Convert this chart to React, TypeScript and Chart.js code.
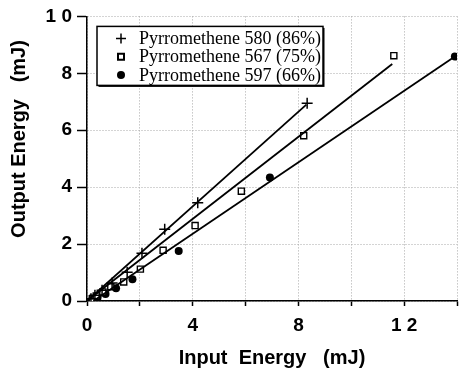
import React, { useEffect, useRef } from 'react';
import { Chart, registerables } from 'chart.js';

Chart.register(...registerables);

// ---- data ----
const xTickValues = [0, 2, 4, 6, 8, 10, 12, 14];
const xTickLabels = ['0', '', '4', '', '8', '', '1 2', ''];
const yTickValues = [0, 2, 4, 6, 8, 10];
const yTickLabels = ['0', '2', '4', '6', '8', '1 0'];

const seriesLabels = ['Pyrromethene 580 (86%)', 'Pyrromethene 567 (75%)', 'Pyrromethene 597 (66%)'];

const input580 = [0.15, 0.3, 0.57, 0.95, 1.52, 2.08, 2.94, 4.19, 8.33];
const output580 = [0.08, 0.2, 0.38, 0.63, 1.01, 1.68, 2.52, 3.45, 6.95];
const input567 = [0.2, 0.35, 0.6, 0.9, 1.39, 2.02, 2.88, 4.09, 5.84, 8.2, 11.61];
const output567 = [0.08, 0.18, 0.32, 0.5, 0.67, 1.12, 1.78, 2.65, 3.86, 5.81, 8.62];
const input597 = [0.2, 0.4, 0.7, 1.1, 1.72, 3.47, 6.92, 13.92];
const output597 = [0.05, 0.12, 0.25, 0.45, 0.76, 1.76, 4.34, 8.59];

const fitX580 = [0, 8.3];
const fitY580 = [0, 6.9];
const fitX567 = [0, 11.55];
const fitY567 = [0, 8.33];
const fitX597 = [0.24, 13.92];
const fitY597 = [0, 8.59];

const xTitle = 'Input  Energy   (mJ)';
const yTitle = 'Output Energy   (mJ)';

const zip = (xs: number[], ys: number[]) => xs.map((x, i) => ({ x, y: ys[i] }));

const SANS = '"Liberation Sans", Arial, sans-serif';
const SERIF = '"Liberation Serif", "Times New Roman", serif';

const drawMarker = (ctx: CanvasRenderingContext2D, kind: string, x: number, y: number) => {
  ctx.save();
  ctx.strokeStyle = '#000';
  ctx.fillStyle = '#000';
  if (kind === 'cross') {
    ctx.lineWidth = 1.5;
    ctx.beginPath();
    ctx.moveTo(x - 5, y);
    ctx.lineTo(x + 5, y);
    ctx.moveTo(x, y - 5);
    ctx.lineTo(x, y + 5);
    ctx.stroke();
  } else if (kind === 'rect') {
    ctx.lineWidth = 2;
    ctx.fillStyle = '#fff';
    ctx.beginPath();
    ctx.rect(x - 3, y - 3, 6, 6);
    ctx.fill();
    ctx.stroke();
  } else {
    ctx.beginPath();
    ctx.arc(x, y, 4, 0, Math.PI * 2);
    ctx.fill();
  }
  ctx.restore();
};

const overlayPlugin = {
  id: 'overlay',
  afterDraw(chart: any) {
    const ctx: CanvasRenderingContext2D = chart.ctx;
    const ca = chart.chartArea;
    // legend box
    const bx = ca.left + 10;
    const by = ca.top + 10;
    const bw = 226;
    const bh = 59;
    ctx.save();
    ctx.fillStyle = '#000';
    ctx.fillRect(bx + 1.5, by + 1.5, bw, bh);
    ctx.fillStyle = '#fff';
    ctx.fillRect(bx, by, bw, bh);
    ctx.strokeStyle = '#000';
    ctx.lineWidth = 1.5;
    ctx.strokeRect(bx, by, bw, bh);
    const kinds = ['cross', 'rect', 'circle'];
    ctx.font = `18px ${SERIF}`;
    ctx.fillStyle = '#000';
    ctx.textBaseline = 'middle';
    ctx.textAlign = 'left';
    seriesLabels.forEach((lab, i) => {
      const yy = by + 12 + i * 18.3;
      drawMarker(ctx, kinds[i], bx + 24, yy);
      ctx.fillStyle = '#000';
      ctx.fillText(lab, bx + 42, yy + 1);
    });
    // axis titles
    ctx.font = `bold 20px ${SANS}`;
    ctx.textAlign = 'center';
    ctx.textBaseline = 'middle';
    ctx.fillText(xTitle, (ca.left + ca.right) / 2, 358);
    ctx.translate(19, 139);
    ctx.rotate(-Math.PI / 2);
    ctx.fillText(yTitle, 0, 0);
    ctx.restore();
  },
};

export default function App() {
  const ref = useRef<HTMLCanvasElement | null>(null);
  useEffect(() => {
    if (!ref.current) return;
    const tickFont = { family: SANS, size: 19, weight: 'bold' as const };
    const chart = new Chart(ref.current, {
      type: 'scatter',
      data: {
        datasets: [
          { type: 'line', label: 'fit580', data: zip(fitX580, fitY580), borderColor: '#000', borderWidth: 1.8, pointRadius: 0, fill: false },
          { type: 'line', label: 'fit567', data: zip(fitX567, fitY567), borderColor: '#000', borderWidth: 1.8, pointRadius: 0, fill: false },
          { type: 'line', label: 'fit597', data: zip(fitX597, fitY597), borderColor: '#000', borderWidth: 1.8, pointRadius: 0, fill: false },
          { label: seriesLabels[0], data: zip(input580, output580), pointStyle: 'cross', pointRadius: 5.5, borderColor: '#000', borderWidth: 1.5, backgroundColor: '#000' },
          { label: seriesLabels[1], data: zip(input567, output567), pointStyle: 'rect', pointRadius: 4.3, borderColor: '#000', borderWidth: 1.4, backgroundColor: '#fff' },
          { label: seriesLabels[2], data: zip(input597, output597), pointStyle: 'circle', pointRadius: 4, borderColor: '#000', borderWidth: 0, backgroundColor: '#000' },
        ] as any,
      },
      options: {
        responsive: false,
        animation: false,
        layout: { padding: { top: 11, right: 17, left: 0, bottom: 0 } },
        plugins: { legend: { display: false }, tooltip: { enabled: false } },
        scales: {
          x: {
            type: 'linear',
            min: 0,
            max: 14,
            afterFit: (s: any) => { s.height = 74; },
            afterBuildTicks: (s: any) => { s.ticks = xTickValues.map((v) => ({ value: v })); },
            ticks: {
              callback: (v: any) => xTickLabels[xTickValues.indexOf(Number(v))] ?? '',
              font: tickFont,
              color: '#000',
              padding: 8,
              maxRotation: 0,
              autoSkip: false,
            },
            grid: { color: '#a8a8a8', lineWidth: 1, tickColor: '#000', tickLength: 5, tickWidth: 1.5 },
            border: { color: '#000', width: 1.5, dash: [1, 2] },
          },
          y: {
            type: 'linear',
            min: 0,
            max: 10,
            afterFit: (s: any) => { s.width = 87; },
            afterBuildTicks: (s: any) => { s.ticks = yTickValues.map((v) => ({ value: v })); },
            ticks: {
              callback: (v: any) => yTickLabels[yTickValues.indexOf(Number(v))] ?? '',
              font: tickFont,
              color: '#000',
              padding: 5,
              autoSkip: false,
            },
            grid: { color: '#a8a8a8', lineWidth: 1, tickColor: '#000', tickLength: 10, tickWidth: 1.5 },
            border: { color: '#000', width: 1.5, dash: [1, 2] },
          },
        },
      } as any,
      plugins: [overlayPlugin],
    });
    return () => chart.destroy();
  }, []);
  return (
    <div style={{ position: 'fixed', left: 0, top: 0, width: 474, height: 375, background: '#fff' }}>
      <canvas ref={ref} width={474} height={375} />
    </div>
  );
}
